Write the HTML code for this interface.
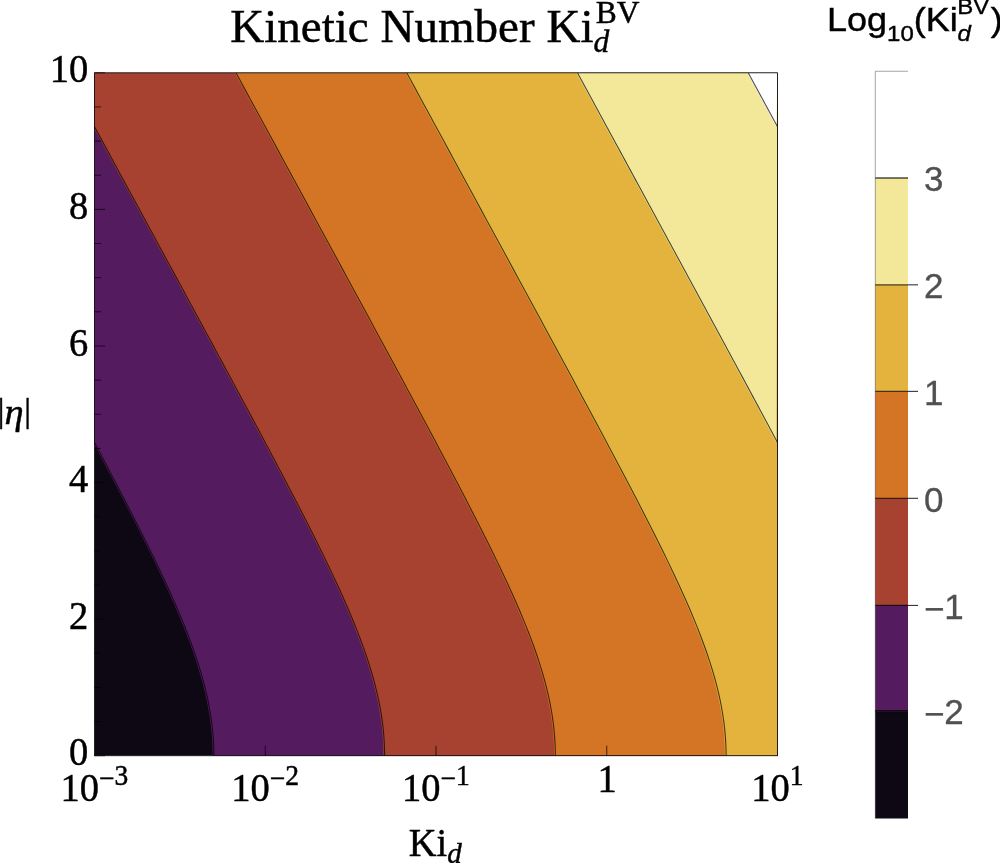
<!DOCTYPE html>
<html><head><meta charset="utf-8"><title>Kinetic Number</title>
<style>html,body{margin:0;padding:0;background:#fff;}body{width:1000px;height:863px;overflow:hidden;position:relative;}svg{position:absolute;left:0;top:0;display:block;}</style>
</head><body>
<svg width="1000" height="863" viewBox="0 0 1000 863">
<defs><clipPath id="pc"><rect x="94.5" y="72.8" width="683.0" height="682.9000000000001"/></clipPath></defs>
<g clip-path="url(#pc)">
<rect x="94.5" y="72.8" width="683.0" height="682.9000000000001" fill="#0e0815"/>
<path d="M212.65,755.70 L212.62,751.79 L212.53,747.87 L212.38,743.96 L212.16,740.04 L211.89,736.13 L211.56,732.22 L211.17,728.30 L210.72,724.39 L210.21,720.48 L209.65,716.56 L209.02,712.65 L208.35,708.73 L207.62,704.82 L206.84,700.91 L206.00,696.99 L205.11,693.08 L204.18,689.17 L203.19,685.25 L202.16,681.34 L201.08,677.42 L199.96,673.51 L198.80,669.60 L197.59,665.68 L196.34,661.77 L195.06,657.86 L193.73,653.94 L192.37,650.03 L190.97,646.11 L189.54,642.20 L188.08,638.29 L186.58,634.37 L185.06,630.46 L183.51,626.55 L181.92,622.63 L180.32,618.72 L178.68,614.80 L177.02,610.89 L175.34,606.98 L173.64,603.06 L171.91,599.15 L170.17,595.24 L168.41,591.32 L166.62,587.41 L164.82,583.49 L163.00,579.58 L161.17,575.67 L159.32,571.75 L157.46,567.84 L155.58,563.93 L153.69,560.01 L151.79,556.10 L149.88,552.18 L147.95,548.27 L146.02,544.36 L144.07,540.44 L142.12,536.53 L140.15,532.62 L138.18,528.70 L136.20,524.79 L134.21,520.87 L132.21,516.96 L130.21,513.05 L128.20,509.13 L126.18,505.22 L124.16,501.31 L122.13,497.39 L120.10,493.48 L118.06,489.56 L116.02,485.65 L113.97,481.74 L111.92,477.82 L109.87,473.91 L107.81,470.00 L105.74,466.08 L103.68,462.17 L101.61,458.25 L99.53,454.34 L97.46,450.43 L95.38,446.51 L93.30,442.60 L94.50,72.80 L777.50,72.80 L777.50,755.70Z" fill="#541c5f"/>
<path d="M383.40,755.70 L383.28,747.84 L382.91,739.98 L382.30,732.11 L381.45,724.25 L380.37,716.39 L379.06,708.53 L377.54,700.67 L375.80,692.80 L373.86,684.94 L371.74,677.08 L369.43,669.22 L366.96,661.36 L364.33,653.49 L361.55,645.63 L358.63,637.77 L355.59,629.91 L352.43,622.05 L349.17,614.18 L345.81,606.32 L342.36,598.46 L338.83,590.60 L335.22,582.74 L331.55,574.87 L327.81,567.01 L324.03,559.15 L320.19,551.29 L316.31,543.43 L312.38,535.56 L308.42,527.70 L304.43,519.84 L300.41,511.98 L296.36,504.12 L292.29,496.25 L288.20,488.39 L284.09,480.53 L279.96,472.67 L275.82,464.81 L271.66,456.94 L267.49,449.08 L263.32,441.22 L259.13,433.36 L254.93,425.50 L250.72,417.63 L246.51,409.77 L242.29,401.91 L238.07,394.05 L233.84,386.19 L229.61,378.32 L225.37,370.46 L221.13,362.60 L216.89,354.74 L212.64,346.88 L208.40,339.01 L204.14,331.15 L199.89,323.29 L195.64,315.43 L191.38,307.57 L187.12,299.70 L182.87,291.84 L178.61,283.98 L174.35,276.12 L170.08,268.26 L165.82,260.39 L161.56,252.53 L157.30,244.67 L153.03,236.81 L148.77,228.95 L144.50,221.08 L140.24,213.22 L135.97,205.36 L131.70,197.50 L127.44,189.64 L123.17,181.77 L118.90,173.91 L114.64,166.05 L110.37,158.19 L106.10,150.33 L101.84,142.46 L97.57,134.60 L93.30,126.74 L94.50,72.80 L777.50,72.80 L777.50,755.70Z" fill="#a6422f"/>
<path d="M554.15,755.70 L554.00,747.16 L553.57,738.63 L552.85,730.09 L551.86,721.56 L550.59,713.02 L549.05,704.48 L547.27,695.95 L545.24,687.41 L542.99,678.87 L540.52,670.34 L537.85,661.80 L535.00,653.26 L531.97,644.73 L528.78,636.19 L525.45,627.66 L521.98,619.12 L518.39,610.58 L514.69,602.05 L510.89,593.51 L507.01,584.98 L503.03,576.44 L498.99,567.90 L494.88,559.37 L490.71,550.83 L486.49,542.29 L482.23,533.76 L477.92,525.22 L473.57,516.69 L469.19,508.15 L464.78,499.61 L460.35,491.08 L455.89,482.54 L451.41,474.00 L446.92,465.47 L442.41,456.93 L437.88,448.39 L433.34,439.86 L428.79,431.32 L424.23,422.79 L419.66,414.25 L415.09,405.71 L410.50,397.18 L405.91,388.64 L401.32,380.10 L396.72,371.57 L392.12,363.03 L387.51,354.50 L382.90,345.96 L378.29,337.42 L373.67,328.89 L369.05,320.35 L364.43,311.81 L359.81,303.28 L355.19,294.74 L350.56,286.21 L345.94,277.67 L341.31,269.13 L336.68,260.60 L332.05,252.06 L327.42,243.52 L322.79,234.99 L318.16,226.45 L313.53,217.92 L308.90,209.38 L304.27,200.84 L299.64,192.31 L295.01,183.77 L290.37,175.24 L285.74,166.70 L281.11,158.16 L276.47,149.63 L271.84,141.09 L267.21,132.55 L262.57,124.02 L257.94,115.48 L253.30,106.94 L248.67,98.41 L244.04,89.87 L239.40,81.34 L234.77,72.80 L777.50,72.80 L777.50,755.70Z" fill="#d37525"/>
<path d="M724.90,755.70 L724.75,747.16 L724.32,738.63 L723.60,730.09 L722.61,721.56 L721.34,713.02 L719.80,704.48 L718.02,695.95 L715.99,687.41 L713.74,678.87 L711.27,670.34 L708.60,661.80 L705.75,653.26 L702.72,644.73 L699.53,636.19 L696.20,627.66 L692.73,619.12 L689.14,610.58 L685.44,602.05 L681.64,593.51 L677.76,584.98 L673.78,576.44 L669.74,567.90 L665.63,559.37 L661.46,550.83 L657.24,542.29 L652.98,533.76 L648.67,525.22 L644.32,516.69 L639.94,508.15 L635.53,499.61 L631.10,491.08 L626.64,482.54 L622.16,474.00 L617.67,465.47 L613.16,456.93 L608.63,448.39 L604.09,439.86 L599.54,431.32 L594.98,422.79 L590.41,414.25 L585.84,405.71 L581.25,397.18 L576.66,388.64 L572.07,380.10 L567.47,371.57 L562.87,363.03 L558.26,354.50 L553.65,345.96 L549.04,337.42 L544.42,328.89 L539.80,320.35 L535.18,311.81 L530.56,303.28 L525.94,294.74 L521.31,286.21 L516.69,277.67 L512.06,269.13 L507.43,260.60 L502.80,252.06 L498.17,243.52 L493.54,234.99 L488.91,226.45 L484.28,217.92 L479.65,209.38 L475.02,200.84 L470.39,192.31 L465.76,183.77 L461.12,175.24 L456.49,166.70 L451.86,158.16 L447.22,149.63 L442.59,141.09 L437.96,132.55 L433.32,124.02 L428.69,115.48 L424.05,106.94 L419.42,98.41 L414.79,89.87 L410.15,81.34 L405.52,72.80 L777.50,72.80 L777.50,755.70Z" fill="#e4b33d"/>
<path d="M776.30,442.60 L773.84,437.98 L771.38,433.35 L768.91,428.73 L766.44,424.11 L763.97,419.49 L761.49,414.86 L759.01,410.24 L756.54,405.62 L754.05,401.00 L751.57,396.37 L749.09,391.75 L746.60,387.13 L744.11,382.51 L741.62,377.88 L739.13,373.26 L736.64,368.64 L734.15,364.02 L731.65,359.39 L729.16,354.77 L726.66,350.15 L724.17,345.53 L721.67,340.90 L719.17,336.28 L716.67,331.66 L714.17,327.04 L711.67,322.41 L709.17,317.79 L706.67,313.17 L704.16,308.55 L701.66,303.92 L699.16,299.30 L696.65,294.68 L694.15,290.06 L691.64,285.43 L689.14,280.81 L686.63,276.19 L684.13,271.57 L681.62,266.94 L679.12,262.32 L676.61,257.70 L674.11,253.08 L671.60,248.45 L669.09,243.83 L666.58,239.21 L664.08,234.59 L661.57,229.96 L659.06,225.34 L656.55,220.72 L654.05,216.10 L651.54,211.47 L649.03,206.85 L646.52,202.23 L644.01,197.61 L641.51,192.98 L639.00,188.36 L636.49,183.74 L633.98,179.12 L631.47,174.49 L628.96,169.87 L626.45,165.25 L623.94,160.63 L621.44,156.00 L618.93,151.38 L616.42,146.76 L613.91,142.14 L611.40,137.51 L608.89,132.89 L606.38,128.27 L603.87,123.65 L601.36,119.02 L598.85,114.40 L596.34,109.78 L593.83,105.16 L591.32,100.53 L588.82,95.91 L586.31,91.29 L583.80,86.67 L581.29,82.04 L578.78,77.42 L576.27,72.80 L777.50,72.80Z" fill="#f3e899"/>
<path d="M776.30,126.74 L775.93,126.07 L775.57,125.39 L775.20,124.72 L774.84,124.04 L774.47,123.37 L774.10,122.69 L773.74,122.02 L773.37,121.35 L773.01,120.67 L772.64,120.00 L772.27,119.32 L771.91,118.65 L771.54,117.97 L771.18,117.30 L770.81,116.63 L770.44,115.95 L770.08,115.28 L769.71,114.60 L769.35,113.93 L768.98,113.25 L768.61,112.58 L768.25,111.91 L767.88,111.23 L767.52,110.56 L767.15,109.88 L766.78,109.21 L766.42,108.53 L766.05,107.86 L765.69,107.19 L765.32,106.51 L764.95,105.84 L764.59,105.16 L764.22,104.49 L763.86,103.82 L763.49,103.14 L763.12,102.47 L762.76,101.79 L762.39,101.12 L762.03,100.44 L761.66,99.77 L761.29,99.10 L760.93,98.42 L760.56,97.75 L760.20,97.07 L759.83,96.40 L759.46,95.72 L759.10,95.05 L758.73,94.38 L758.36,93.70 L758.00,93.03 L757.63,92.35 L757.27,91.68 L756.90,91.00 L756.53,90.33 L756.17,89.66 L755.80,88.98 L755.44,88.31 L755.07,87.63 L754.70,86.96 L754.34,86.28 L753.97,85.61 L753.61,84.94 L753.24,84.26 L752.87,83.59 L752.51,82.91 L752.14,82.24 L751.78,81.57 L751.41,80.89 L751.04,80.22 L750.68,79.54 L750.31,78.87 L749.95,78.19 L749.58,77.52 L749.21,76.85 L748.85,76.17 L748.48,75.50 L748.12,74.82 L747.75,74.15 L747.38,73.47 L747.02,72.80 L777.50,72.80Z" fill="#ffffff"/>
<path d="M213.85,755.70 L213.82,751.79 L213.73,747.87 L213.58,743.96 L213.36,740.04 L213.09,736.13 L212.76,732.22 L212.37,728.30 L211.92,724.39 L211.41,720.48 L210.85,716.56 L210.22,712.65 L209.55,708.73 L208.82,704.82 L208.04,700.91 L207.20,696.99 L206.31,693.08 L205.38,689.17 L204.39,685.25 L203.36,681.34 L202.28,677.42 L201.16,673.51 L200.00,669.60 L198.79,665.68 L197.54,661.77 L196.26,657.86 L194.93,653.94 L193.57,650.03 L192.17,646.11 L190.74,642.20 L189.28,638.29 L187.78,634.37 L186.26,630.46 L184.71,626.55 L183.12,622.63 L181.52,618.72 L179.88,614.80 L178.22,610.89 L176.54,606.98 L174.84,603.06 L173.11,599.15 L171.37,595.24 L169.61,591.32 L167.82,587.41 L166.02,583.49 L164.20,579.58 L162.37,575.67 L160.52,571.75 L158.66,567.84 L156.78,563.93 L154.89,560.01 L152.99,556.10 L151.08,552.18 L149.15,548.27 L147.22,544.36 L145.27,540.44 L143.32,536.53 L141.35,532.62 L139.38,528.70 L137.40,524.79 L135.41,520.87 L133.41,516.96 L131.41,513.05 L129.40,509.13 L127.38,505.22 L125.36,501.31 L123.33,497.39 L121.30,493.48 L119.26,489.56 L117.22,485.65 L115.17,481.74 L113.12,477.82 L111.07,473.91 L109.01,470.00 L106.94,466.08 L104.88,462.17 L102.81,458.25 L100.73,454.34 L98.66,450.43 L96.58,446.51 L94.50,442.60" fill="none" stroke="#000" stroke-opacity="0.7" stroke-width="1.1"/>
<path d="M384.60,755.70 L384.48,747.84 L384.11,739.98 L383.50,732.11 L382.65,724.25 L381.57,716.39 L380.26,708.53 L378.74,700.67 L377.00,692.80 L375.06,684.94 L372.94,677.08 L370.63,669.22 L368.16,661.36 L365.53,653.49 L362.75,645.63 L359.83,637.77 L356.79,629.91 L353.63,622.05 L350.37,614.18 L347.01,606.32 L343.56,598.46 L340.03,590.60 L336.42,582.74 L332.75,574.87 L329.01,567.01 L325.23,559.15 L321.39,551.29 L317.51,543.43 L313.58,535.56 L309.62,527.70 L305.63,519.84 L301.61,511.98 L297.56,504.12 L293.49,496.25 L289.40,488.39 L285.29,480.53 L281.16,472.67 L277.02,464.81 L272.86,456.94 L268.69,449.08 L264.52,441.22 L260.33,433.36 L256.13,425.50 L251.92,417.63 L247.71,409.77 L243.49,401.91 L239.27,394.05 L235.04,386.19 L230.81,378.32 L226.57,370.46 L222.33,362.60 L218.09,354.74 L213.84,346.88 L209.60,339.01 L205.34,331.15 L201.09,323.29 L196.84,315.43 L192.58,307.57 L188.32,299.70 L184.07,291.84 L179.81,283.98 L175.55,276.12 L171.28,268.26 L167.02,260.39 L162.76,252.53 L158.50,244.67 L154.23,236.81 L149.97,228.95 L145.70,221.08 L141.44,213.22 L137.17,205.36 L132.90,197.50 L128.64,189.64 L124.37,181.77 L120.10,173.91 L115.84,166.05 L111.57,158.19 L107.30,150.33 L103.04,142.46 L98.77,134.60 L94.50,126.74" fill="none" stroke="#000" stroke-opacity="0.7" stroke-width="1.1"/>
<path d="M555.35,755.70 L555.20,747.16 L554.77,738.63 L554.05,730.09 L553.06,721.56 L551.79,713.02 L550.25,704.48 L548.47,695.95 L546.44,687.41 L544.19,678.87 L541.72,670.34 L539.05,661.80 L536.20,653.26 L533.17,644.73 L529.98,636.19 L526.65,627.66 L523.18,619.12 L519.59,610.58 L515.89,602.05 L512.09,593.51 L508.21,584.98 L504.23,576.44 L500.19,567.90 L496.08,559.37 L491.91,550.83 L487.69,542.29 L483.43,533.76 L479.12,525.22 L474.77,516.69 L470.39,508.15 L465.98,499.61 L461.55,491.08 L457.09,482.54 L452.61,474.00 L448.12,465.47 L443.61,456.93 L439.08,448.39 L434.54,439.86 L429.99,431.32 L425.43,422.79 L420.86,414.25 L416.29,405.71 L411.70,397.18 L407.11,388.64 L402.52,380.10 L397.92,371.57 L393.32,363.03 L388.71,354.50 L384.10,345.96 L379.49,337.42 L374.87,328.89 L370.25,320.35 L365.63,311.81 L361.01,303.28 L356.39,294.74 L351.76,286.21 L347.14,277.67 L342.51,269.13 L337.88,260.60 L333.25,252.06 L328.62,243.52 L323.99,234.99 L319.36,226.45 L314.73,217.92 L310.10,209.38 L305.47,200.84 L300.84,192.31 L296.21,183.77 L291.57,175.24 L286.94,166.70 L282.31,158.16 L277.67,149.63 L273.04,141.09 L268.41,132.55 L263.77,124.02 L259.14,115.48 L254.50,106.94 L249.87,98.41 L245.24,89.87 L240.60,81.34 L235.97,72.80" fill="none" stroke="#000" stroke-opacity="0.7" stroke-width="1.1"/>
<path d="M726.10,755.70 L725.95,747.16 L725.52,738.63 L724.80,730.09 L723.81,721.56 L722.54,713.02 L721.00,704.48 L719.22,695.95 L717.19,687.41 L714.94,678.87 L712.47,670.34 L709.80,661.80 L706.95,653.26 L703.92,644.73 L700.73,636.19 L697.40,627.66 L693.93,619.12 L690.34,610.58 L686.64,602.05 L682.84,593.51 L678.96,584.98 L674.98,576.44 L670.94,567.90 L666.83,559.37 L662.66,550.83 L658.44,542.29 L654.18,533.76 L649.87,525.22 L645.52,516.69 L641.14,508.15 L636.73,499.61 L632.30,491.08 L627.84,482.54 L623.36,474.00 L618.87,465.47 L614.36,456.93 L609.83,448.39 L605.29,439.86 L600.74,431.32 L596.18,422.79 L591.61,414.25 L587.04,405.71 L582.45,397.18 L577.86,388.64 L573.27,380.10 L568.67,371.57 L564.07,363.03 L559.46,354.50 L554.85,345.96 L550.24,337.42 L545.62,328.89 L541.00,320.35 L536.38,311.81 L531.76,303.28 L527.14,294.74 L522.51,286.21 L517.89,277.67 L513.26,269.13 L508.63,260.60 L504.00,252.06 L499.37,243.52 L494.74,234.99 L490.11,226.45 L485.48,217.92 L480.85,209.38 L476.22,200.84 L471.59,192.31 L466.96,183.77 L462.32,175.24 L457.69,166.70 L453.06,158.16 L448.42,149.63 L443.79,141.09 L439.16,132.55 L434.52,124.02 L429.89,115.48 L425.25,106.94 L420.62,98.41 L415.99,89.87 L411.35,81.34 L406.72,72.80" fill="none" stroke="#000" stroke-opacity="0.7" stroke-width="1.1"/>
<path d="M777.50,442.60 L775.04,437.98 L772.58,433.35 L770.11,428.73 L767.64,424.11 L765.17,419.49 L762.69,414.86 L760.21,410.24 L757.74,405.62 L755.25,401.00 L752.77,396.37 L750.29,391.75 L747.80,387.13 L745.31,382.51 L742.82,377.88 L740.33,373.26 L737.84,368.64 L735.35,364.02 L732.85,359.39 L730.36,354.77 L727.86,350.15 L725.37,345.53 L722.87,340.90 L720.37,336.28 L717.87,331.66 L715.37,327.04 L712.87,322.41 L710.37,317.79 L707.87,313.17 L705.36,308.55 L702.86,303.92 L700.36,299.30 L697.85,294.68 L695.35,290.06 L692.84,285.43 L690.34,280.81 L687.83,276.19 L685.33,271.57 L682.82,266.94 L680.32,262.32 L677.81,257.70 L675.31,253.08 L672.80,248.45 L670.29,243.83 L667.78,239.21 L665.28,234.59 L662.77,229.96 L660.26,225.34 L657.75,220.72 L655.25,216.10 L652.74,211.47 L650.23,206.85 L647.72,202.23 L645.21,197.61 L642.71,192.98 L640.20,188.36 L637.69,183.74 L635.18,179.12 L632.67,174.49 L630.16,169.87 L627.65,165.25 L625.14,160.63 L622.64,156.00 L620.13,151.38 L617.62,146.76 L615.11,142.14 L612.60,137.51 L610.09,132.89 L607.58,128.27 L605.07,123.65 L602.56,119.02 L600.05,114.40 L597.54,109.78 L595.03,105.16 L592.52,100.53 L590.02,95.91 L587.51,91.29 L585.00,86.67 L582.49,82.04 L579.98,77.42 L577.47,72.80" fill="none" stroke="#000" stroke-opacity="0.7" stroke-width="1.1"/>
<path d="M777.50,126.74 L777.13,126.07 L776.77,125.39 L776.40,124.72 L776.04,124.04 L775.67,123.37 L775.30,122.69 L774.94,122.02 L774.57,121.35 L774.21,120.67 L773.84,120.00 L773.47,119.32 L773.11,118.65 L772.74,117.97 L772.38,117.30 L772.01,116.63 L771.64,115.95 L771.28,115.28 L770.91,114.60 L770.55,113.93 L770.18,113.25 L769.81,112.58 L769.45,111.91 L769.08,111.23 L768.72,110.56 L768.35,109.88 L767.98,109.21 L767.62,108.53 L767.25,107.86 L766.89,107.19 L766.52,106.51 L766.15,105.84 L765.79,105.16 L765.42,104.49 L765.06,103.82 L764.69,103.14 L764.32,102.47 L763.96,101.79 L763.59,101.12 L763.23,100.44 L762.86,99.77 L762.49,99.10 L762.13,98.42 L761.76,97.75 L761.40,97.07 L761.03,96.40 L760.66,95.72 L760.30,95.05 L759.93,94.38 L759.56,93.70 L759.20,93.03 L758.83,92.35 L758.47,91.68 L758.10,91.00 L757.73,90.33 L757.37,89.66 L757.00,88.98 L756.64,88.31 L756.27,87.63 L755.90,86.96 L755.54,86.28 L755.17,85.61 L754.81,84.94 L754.44,84.26 L754.07,83.59 L753.71,82.91 L753.34,82.24 L752.98,81.57 L752.61,80.89 L752.24,80.22 L751.88,79.54 L751.51,78.87 L751.15,78.19 L750.78,77.52 L750.41,76.85 L750.05,76.17 L749.68,75.50 L749.32,74.82 L748.95,74.15 L748.58,73.47 L748.22,72.80" fill="none" stroke="#000" stroke-opacity="0.7" stroke-width="1.1"/>
</g>
<rect x="94.5" y="72.8" width="683.0" height="682.9000000000001" fill="none" stroke="#000" stroke-opacity="0.9" stroke-width="0.9"/>
<path d="M94.5,755.70h10.5 M94.5,721.56h6.5 M94.5,687.41h6.5 M94.5,653.26h6.5 M94.5,619.12h10.5 M94.5,584.98h6.5 M94.5,550.83h6.5 M94.5,516.69h6.5 M94.5,482.54h10.5 M94.5,448.39h6.5 M94.5,414.25h6.5 M94.5,380.10h6.5 M94.5,345.96h10.5 M94.5,311.81h6.5 M94.5,277.67h6.5 M94.5,243.52h6.5 M94.5,209.38h10.5 M94.5,175.24h6.5 M94.5,141.09h6.5 M94.5,106.94h6.5 M94.5,72.80h10.5 M265.25,755.7v-10 M436.00,755.7v-10 M606.75,755.7v-10" stroke="#000" stroke-width="0.7" fill="none"/>
<g transform="translate(88.20,765.30) scale(1,1.054)"><text font-family="Liberation Serif, serif" font-size="38.5" text-anchor="end" fill="#000" stroke="#000" stroke-width="0.45" >0</text></g>
<g transform="translate(88.20,628.72) scale(1,1.054)"><text font-family="Liberation Serif, serif" font-size="38.5" text-anchor="end" fill="#000" stroke="#000" stroke-width="0.45" >2</text></g>
<g transform="translate(88.20,492.14) scale(1,1.054)"><text font-family="Liberation Serif, serif" font-size="38.5" text-anchor="end" fill="#000" stroke="#000" stroke-width="0.45" >4</text></g>
<g transform="translate(88.20,355.56) scale(1,1.054)"><text font-family="Liberation Serif, serif" font-size="38.5" text-anchor="end" fill="#000" stroke="#000" stroke-width="0.45" >6</text></g>
<g transform="translate(88.20,218.98) scale(1,1.054)"><text font-family="Liberation Serif, serif" font-size="38.5" text-anchor="end" fill="#000" stroke="#000" stroke-width="0.45" >8</text></g>
<g transform="translate(88.20,82.40) scale(1,1.054)"><text font-family="Liberation Serif, serif" font-size="38.5" text-anchor="end" fill="#000" stroke="#000" stroke-width="0.45" >10</text></g>
<g transform="translate(94.30,801.20) scale(1,1.054)"><text font-family="Liberation Serif, serif" font-size="38.5" text-anchor="middle" fill="#000" stroke="#000" stroke-width="0.45" >10<tspan font-size="27.5" dy="-12.3">−</tspan><tspan font-size="27.5" dy="-3.1">3</tspan></text></g>
<g transform="translate(265.05,801.20) scale(1,1.054)"><text font-family="Liberation Serif, serif" font-size="38.5" text-anchor="middle" fill="#000" stroke="#000" stroke-width="0.45" >10<tspan font-size="27.5" dy="-12.3">−</tspan><tspan font-size="27.5" dy="-3.1">2</tspan></text></g>
<g transform="translate(435.80,801.20) scale(1,1.054)"><text font-family="Liberation Serif, serif" font-size="38.5" text-anchor="middle" fill="#000" stroke="#000" stroke-width="0.45" >10<tspan font-size="27.5" dy="-12.3">−</tspan><tspan font-size="27.5" dy="-3.1">1</tspan></text></g>
<g transform="translate(607.05,791.60) scale(1,1.054)"><text font-family="Liberation Serif, serif" font-size="38.5" text-anchor="middle" fill="#000" stroke="#000" stroke-width="0.45" >1</text></g>
<g transform="translate(777.30,801.20) scale(1,1.054)"><text font-family="Liberation Serif, serif" font-size="38.5" text-anchor="middle" fill="#000" stroke="#000" stroke-width="0.45" >10<tspan font-size="27.5" dy="-15.4">1</tspan></text></g>
<g transform="translate(-2.20,422.30) scale(1,1)"><text font-family="Liberation Serif, serif" font-size="33.5" text-anchor="start" fill="#000" stroke="#000" stroke-width="0.45" >|</text></g>
<g transform="translate(4.60,424.40) scale(1,0.92)"><text font-family="Liberation Serif, serif" font-size="38.5" text-anchor="start" fill="#000" stroke="#000" stroke-width="0.45" font-style="italic">η</text></g>
<g transform="translate(24.20,422.30) scale(1,1)"><text font-family="Liberation Serif, serif" font-size="33.5" text-anchor="start" fill="#000" stroke="#000" stroke-width="0.45" >|</text></g>
<g transform="translate(408.70,856.20) scale(1,1.02)"><text font-family="Liberation Serif, serif" font-size="38.5" text-anchor="start" fill="#000" stroke="#000" stroke-width="0.45" >Ki</text></g>
<g transform="translate(447.30,862.80) scale(1,1)"><text font-family="Liberation Serif, serif" font-size="29" text-anchor="start" fill="#000" stroke="#000" stroke-width="0.45" font-style="italic">d</text></g>
<g transform="translate(230.30,41.70) scale(1,0.985)"><text font-family="Liberation Serif, serif" font-size="47.05" text-anchor="start" fill="#000" stroke="#000" stroke-width="0.45" >Kinetic Number Ki</text></g>
<g transform="translate(595.70,23.10) scale(1,1)"><text font-family="Liberation Serif, serif" font-size="31.5" text-anchor="start" fill="#000" stroke="#000" stroke-width="0.45" >BV</text></g>
<g transform="translate(593.50,51.50) scale(1,1)"><text font-family="Liberation Serif, serif" font-size="31.5" text-anchor="start" fill="#000" stroke="#000" stroke-width="0.45" font-style="italic">d</text></g>
<rect x="875.3" y="71.25" width="32.700000000000045" height="106.75" fill="#ffffff"/>
<rect x="875.3" y="178.0" width="32.700000000000045" height="106.75" fill="#f3e899"/>
<rect x="875.3" y="284.75" width="32.700000000000045" height="106.75" fill="#e4b33d"/>
<rect x="875.3" y="391.5" width="32.700000000000045" height="106.75" fill="#d37525"/>
<rect x="875.3" y="498.25" width="32.700000000000045" height="106.75" fill="#a6422f"/>
<rect x="875.3" y="605.0" width="32.700000000000045" height="106.75" fill="#541c5f"/>
<rect x="875.3" y="711.75" width="32.700000000000045" height="106.75" fill="#0e0815"/>
<path d="M875.3,818.5V71.25H908" stroke="#000" stroke-opacity="0.6" stroke-width="0.6" fill="none"/>
<path d="M875.3,178.0H908" stroke="#000" stroke-opacity="0.7" stroke-width="1.3"/>
<g transform="translate(923.90,191.30) scale(1,1)"><text font-family="Liberation Sans, sans-serif" font-size="35" text-anchor="start" fill="#505050" stroke="#505050" stroke-width="0.3" >3</text></g>
<path d="M875.3,284.85H908" stroke="#000" stroke-opacity="0.7" stroke-width="1.3"/>
<path d="M908,284.85H918" stroke="#222" stroke-width="1"/>
<g transform="translate(923.90,298.15) scale(1,1)"><text font-family="Liberation Sans, sans-serif" font-size="35" text-anchor="start" fill="#505050" stroke="#505050" stroke-width="0.3" >2</text></g>
<path d="M875.3,391.35H908" stroke="#000" stroke-opacity="0.7" stroke-width="1.3"/>
<path d="M908,391.35H918" stroke="#222" stroke-width="1"/>
<g transform="translate(923.90,404.65) scale(1,1)"><text font-family="Liberation Sans, sans-serif" font-size="35" text-anchor="start" fill="#505050" stroke="#505050" stroke-width="0.3" >1</text></g>
<path d="M875.3,498.3H908" stroke="#000" stroke-opacity="0.7" stroke-width="1.3"/>
<path d="M908,498.3H918" stroke="#222" stroke-width="1"/>
<g transform="translate(923.90,511.60) scale(1,1)"><text font-family="Liberation Sans, sans-serif" font-size="35" text-anchor="start" fill="#505050" stroke="#505050" stroke-width="0.3" >0</text></g>
<path d="M875.3,605.4H908" stroke="#000" stroke-opacity="0.7" stroke-width="1.3"/>
<path d="M908,605.4H918" stroke="#222" stroke-width="1"/>
<g transform="translate(923.90,618.70) scale(1,1)"><text font-family="Liberation Sans, sans-serif" font-size="35" text-anchor="start" fill="#505050" stroke="#505050" stroke-width="0.3" ><tspan dy="2">−</tspan><tspan dy="-2">1</tspan></text></g>
<path d="M875.3,711.1H908" stroke="#000" stroke-opacity="0.7" stroke-width="2.2"/>
<g transform="translate(923.90,724.25) scale(1,1)"><text font-family="Liberation Sans, sans-serif" font-size="35" text-anchor="start" fill="#505050" stroke="#505050" stroke-width="0.3" ><tspan dy="2">−</tspan><tspan dy="-2">2</tspan></text></g>
<g transform="translate(827.00,31.00) scale(1,0.92)"><text font-family="Liberation Sans, sans-serif" font-size="36" text-anchor="start" fill="#000" stroke="#000" stroke-width="0.45" >Log<tspan font-size="24" dy="10.4">10</tspan><tspan dy="-10.4">(Ki</tspan></text></g>
<g transform="translate(957.20,14.25) scale(1,0.95)"><text font-family="Liberation Sans, sans-serif" font-size="24" text-anchor="start" fill="#000" stroke="#000" stroke-width="0.4" >BV</text></g>
<g transform="translate(957.40,40.70) scale(1,0.95)"><text font-family="Liberation Sans, sans-serif" font-size="24" text-anchor="start" fill="#000" stroke="#000" stroke-width="0.4" font-style="italic">d</text></g>
<g transform="translate(990.80,31.00) scale(1,0.92)"><text font-family="Liberation Sans, sans-serif" font-size="36" text-anchor="start" fill="#000" stroke="#000" stroke-width="0.45" >)</text></g>
</svg>
</body></html>
